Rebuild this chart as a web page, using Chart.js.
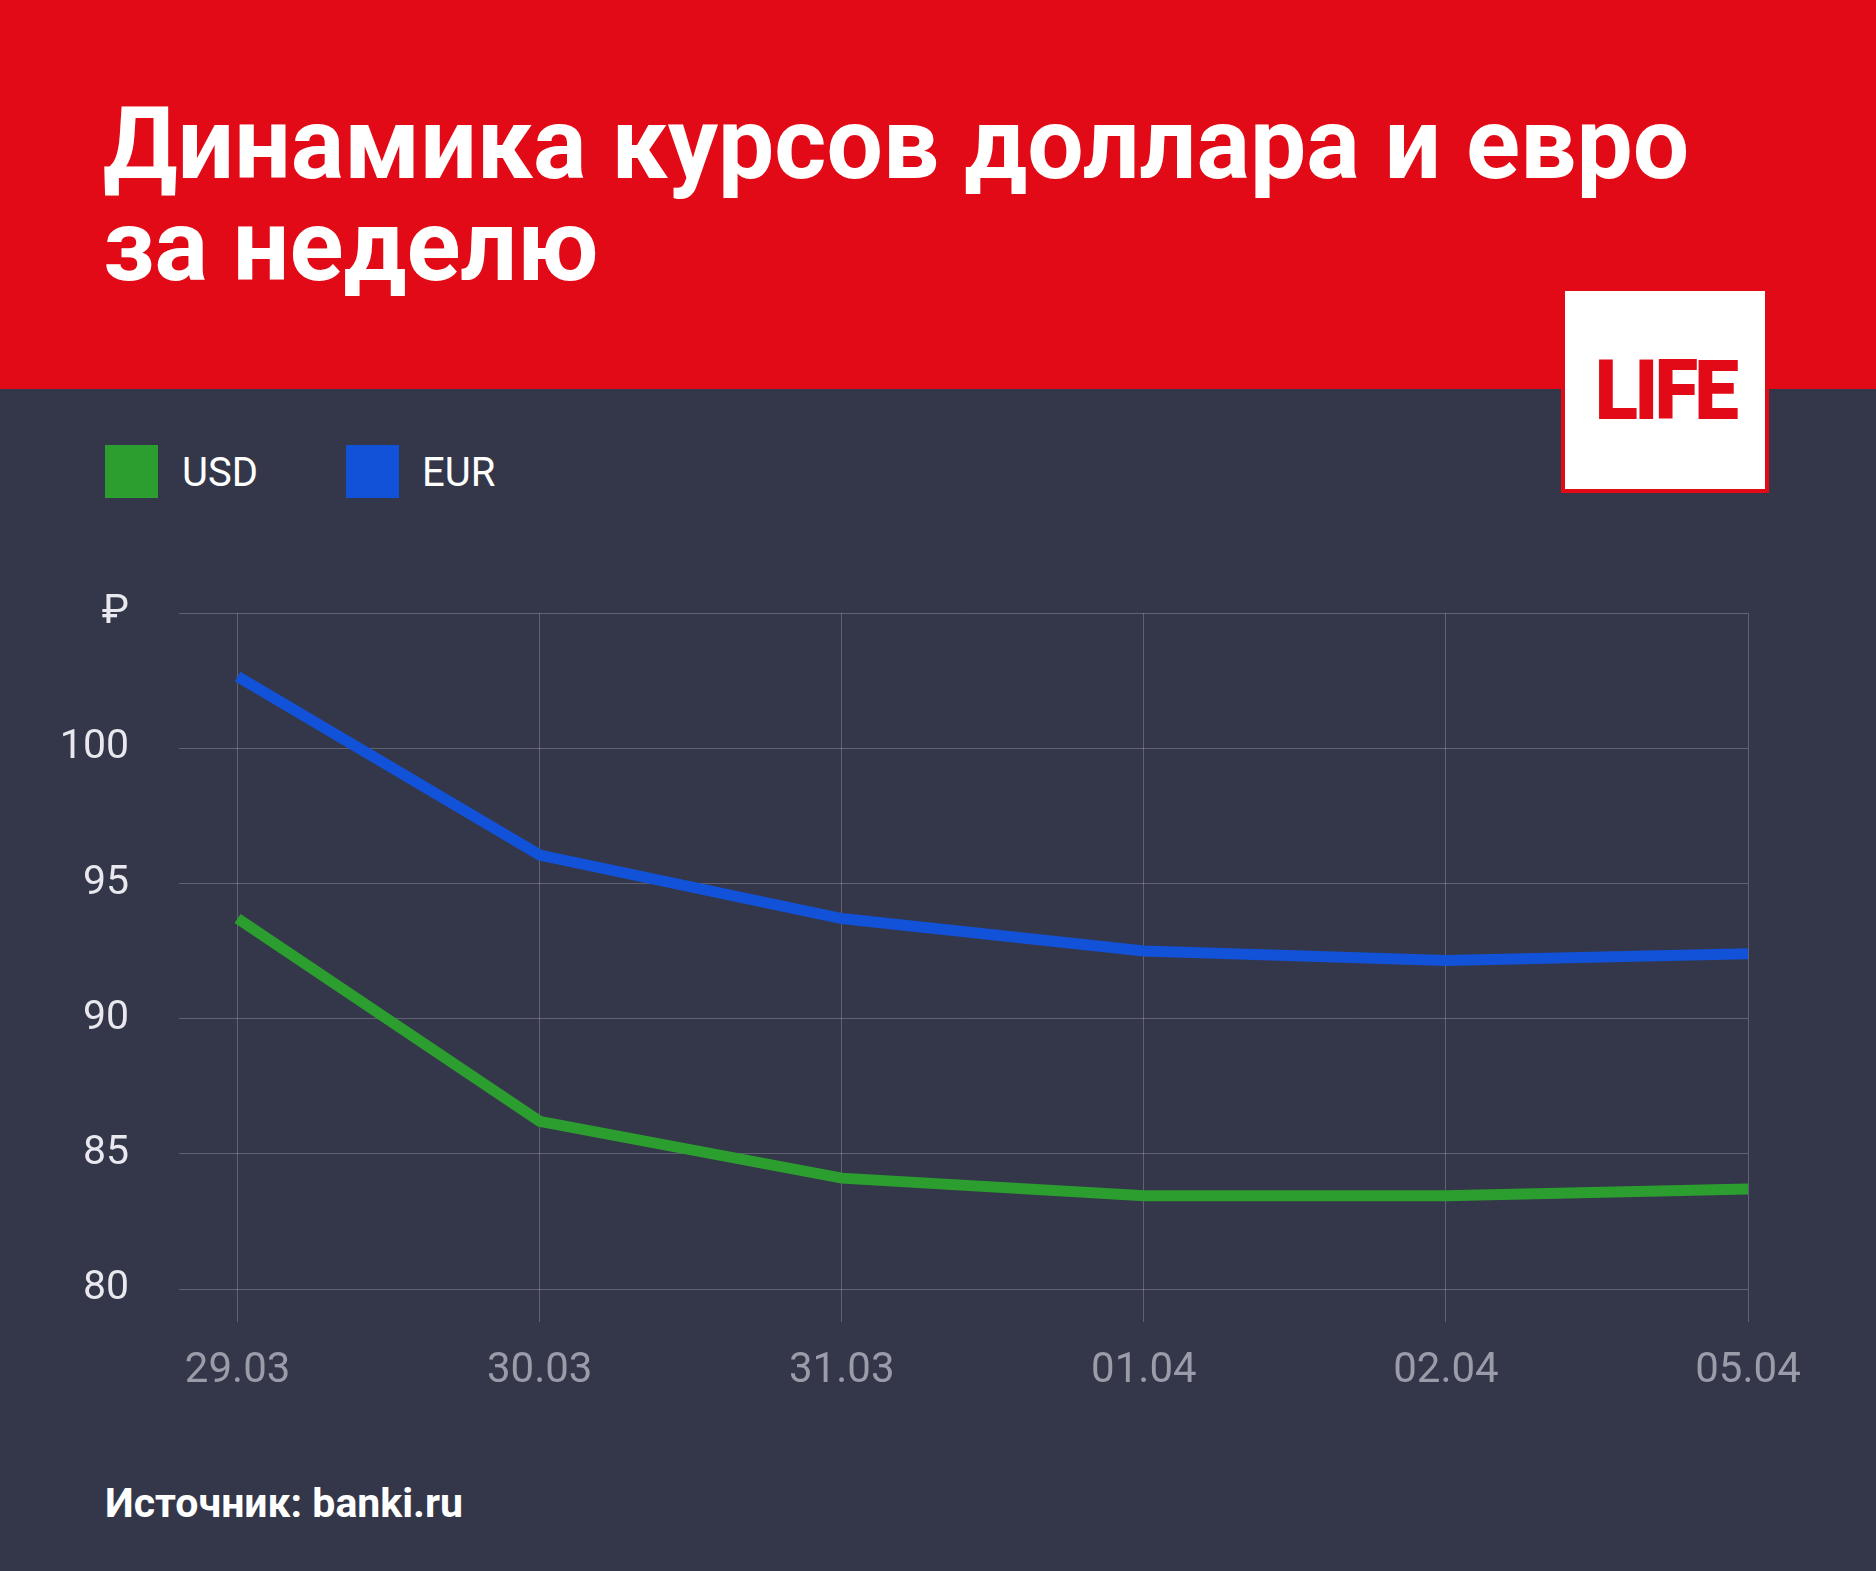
<!DOCTYPE html>
<html><head><meta charset="utf-8">
<script src="https://cdn.jsdelivr.net/npm/chart.js@4"></script>
<style>
html,body{margin:0;padding:0;}
body{width:1876px;height:1571px;background:#343749;position:relative;overflow:hidden;font-family:Roboto,"Noto Sans",sans-serif;}
#hdr{position:absolute;left:0;top:0;width:1876px;height:389px;background:#e10a16;}
#title{position:absolute;left:103px;top:93px;color:#fff;font-weight:700;font-size:100px;line-height:102px;}
#logo{position:absolute;left:1561px;top:287px;width:200px;height:198px;background:#fff;border:4px solid #e10a16;display:flex;align-items:center;justify-content:center;}
#logo span{color:#e10a16;font-weight:900;font-size:84px;letter-spacing:-4px;display:inline-block;transform:scaleX(0.95);}
.sq{position:absolute;top:445px;width:53px;height:53px;}
.lt{position:absolute;top:449px;color:#fff;font-size:40px;}
#src{position:absolute;left:105px;top:1479px;color:#fff;font-weight:700;font-size:41px;}
canvas{position:absolute;left:0;top:0;}
</style></head><body>
<div id="hdr"></div>
<div id="title">Динамика курсов доллара и евро<br>за неделю</div>
<div id="logo"><span>LIFE</span></div>
<div class="sq" style="left:105px;background:#2c9e2f"></div><div class="lt" style="left:182px">USD</div>
<div class="sq" style="left:346px;background:#1252d8"></div><div class="lt" style="left:422px">EUR</div>
<div id="src">Источник: banki.ru</div>
<canvas id="c" width="1876" height="1571"></canvas>
<script>
const categories=["29.03","30.03","31.03","01.04","02.04","05.04"];
const usd=[93.7,86.2,84.1,83.45,83.45,83.7];
const eur=[102.65,96.05,93.7,92.5,92.15,92.4];
const yTicks=[80,85,90,95,100,105];
const yLabels={105:"₽"};
const pts=a=>a.map((v,i)=>({x:i,y:v}));
new Chart(document.getElementById('c'),{type:'line',
data:{datasets:[
{data:pts(eur),borderColor:'#1252d8',borderWidth:11,pointRadius:0,tension:0},
{data:pts(usd),borderColor:'#2c9e2f',borderWidth:11,pointRadius:0,tension:0}]},
options:{responsive:false,animation:false,devicePixelRatio:1,
layout:{padding:{left:0,top:613,right:128,bottom:162}},
plugins:{legend:{display:false},tooltip:{enabled:false}},
scales:{
x:{type:'linear',min:-0.194,max:5,
 afterBuildTicks:s=>{s.ticks=categories.map((c,i)=>({value:i}));},
 afterFit:s=>{s.height=120;},
 grid:{color:'rgba(255,255,255,0.22)',lineWidth:1,tickLength:33,drawTicks:true},
 border:{display:false},
 ticks:{padding:24,color:'#9b9caa',font:{size:42,family:'Roboto'},maxRotation:0,callback:v=>categories[v]}},
y:{min:80,max:105,
 afterBuildTicks:s=>{s.ticks=yTicks.map(v=>({value:v}));},
 afterFit:s=>{s.width=179;},
 grid:{color:'rgba(255,255,255,0.22)',lineWidth:1,drawTicks:false},
 border:{display:false},
 ticks:{padding:50,color:'#e8e8ee',font:{size:41,family:'Roboto'},callback:v=>yLabels[v]||String(v)}}
}}});
</script>
</body></html>
